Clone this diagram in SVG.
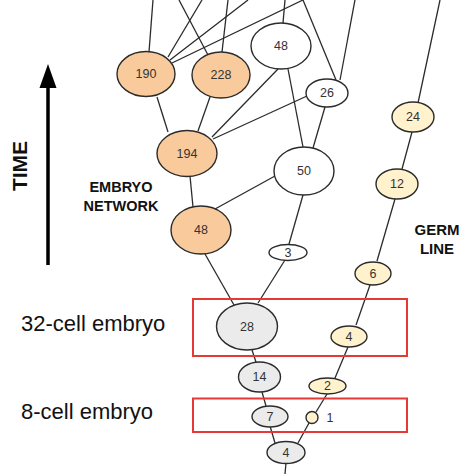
<svg xmlns="http://www.w3.org/2000/svg" width="474" height="474" viewBox="0 0 474 474">
<style>
.e{stroke:#2b2b2b;stroke-width:1.3;fill:none}
.n{stroke:#2b2b2b;stroke-width:1.4}
.o{fill:#f9cb9c}
.w{fill:#ffffff}
.y{fill:#fff2cc}
.g{fill:#ebebeb}
.t{font-family:"Liberation Sans",Arial,sans-serif;font-size:12.5px;fill:#333;text-anchor:middle;dominant-baseline:central}
.b{font-family:"Liberation Sans",Arial,sans-serif;font-weight:bold;fill:#111;text-anchor:middle}
.l{font-family:"Liberation Sans",Arial,sans-serif;font-size:22px;fill:#111}
.r{fill:none;stroke:#e53935;stroke-width:2}
</style>
<rect width="474" height="474" fill="#fff"/>
<g id="connectors">
<line class="e" x1="153" y1="0" x2="149" y2="52"/>
<line class="e" x1="179" y1="0" x2="208" y2="55"/>
<line class="e" x1="202" y1="0" x2="168" y2="57"/>
<line class="e" x1="248" y1="0" x2="170" y2="60"/>
<line class="e" x1="303" y1="0" x2="172" y2="63"/>
<line class="e" x1="228" y1="0" x2="222" y2="52"/>
<line class="e" x1="285" y1="0" x2="283" y2="23"/>
<line class="e" x1="303" y1="0" x2="336" y2="80"/>
<line class="e" x1="355" y1="0" x2="340" y2="80"/>
<line class="e" x1="440" y1="0" x2="418" y2="103"/>
<line class="e" x1="157" y1="97" x2="168" y2="132"/>
<line class="e" x1="210" y1="97" x2="198" y2="131"/>
<line class="e" x1="278" y1="69" x2="212" y2="137"/>
<line class="e" x1="307" y1="96" x2="213" y2="139"/>
<line class="e" x1="288" y1="69" x2="303" y2="147"/>
<line class="e" x1="325" y1="107" x2="313" y2="148"/>
<line class="e" x1="190" y1="176" x2="193" y2="207"/>
<line class="e" x1="275" y1="176" x2="215" y2="209"/>
<line class="e" x1="303" y1="195" x2="289" y2="244"/>
<line class="e" x1="412" y1="132" x2="402" y2="169"/>
<line class="e" x1="395" y1="199" x2="377" y2="261"/>
<line class="e" x1="370" y1="285" x2="356" y2="325"/>
<line class="e" x1="205" y1="254" x2="234" y2="305"/>
<line class="e" x1="285" y1="260" x2="258" y2="303"/>
<line class="e" x1="252" y1="350" x2="256" y2="362"/>
<line class="e" x1="348" y1="347" x2="335" y2="378"/>
<line class="e" x1="262" y1="392" x2="266" y2="406"/>
<line class="e" x1="327" y1="394" x2="316" y2="412"/>
<line class="e" x1="270" y1="426" x2="275" y2="443"/>
<line class="e" x1="309" y1="423" x2="298" y2="443"/>
<line class="e" x1="286" y1="463" x2="285" y2="474"/>
</g>
<g id="frames">
<rect class="r" x="193" y="299" width="214" height="57"/>
<rect class="r" x="193" y="398.5" width="214" height="33.5"/>
</g>
<g id="n190"><ellipse class="n o" cx="146" cy="74" rx="29" ry="22.5"/><text class="t" x="146" y="74">190</text></g>
<g id="n228"><ellipse class="n o" cx="221" cy="75" rx="29" ry="23"/><text class="t" x="221" y="75">228</text></g>
<g id="n48w"><ellipse class="n w" cx="281" cy="46" rx="30" ry="23"/><text class="t" x="281" y="46">48</text></g>
<g id="n26"><ellipse class="n w" cx="327" cy="93" rx="21" ry="14"/><text class="t" x="327" y="93">26</text></g>
<g id="n194"><ellipse class="n o" cx="187" cy="153.5" rx="30" ry="23"/><text class="t" x="187" y="153.5">194</text></g>
<g id="n50"><ellipse class="n w" cx="304" cy="171" rx="30" ry="24"/><text class="t" x="304" y="171">50</text></g>
<g id="n48o"><ellipse class="n o" cx="201" cy="230" rx="30" ry="24"/><text class="t" x="201" y="230">48</text></g>
<g id="n3"><ellipse class="n w" cx="288" cy="252.5" rx="19" ry="8"/><text class="t" x="288" y="252.5">3</text></g>
<g id="n24"><ellipse class="n y" cx="413" cy="117" rx="21" ry="15"/><text class="t" x="413" y="117">24</text></g>
<g id="n12"><ellipse class="n y" cx="397" cy="184" rx="21" ry="15"/><text class="t" x="397" y="184">12</text></g>
<g id="n6"><ellipse class="n y" cx="373" cy="273.5" rx="18" ry="11.5"/><text class="t" x="373" y="273.5">6</text></g>
<g id="n28"><ellipse class="n g" cx="247" cy="326.5" rx="30.5" ry="23.5"/><text class="t" x="247" y="326.5">28</text></g>
<g id="n4g"><ellipse class="n y" cx="349" cy="336.5" rx="18" ry="10.5"/><text class="t" x="349" y="336.5">4</text></g>
<g id="n14"><ellipse class="n g" cx="259.5" cy="377" rx="21" ry="15"/><text class="t" x="259.5" y="377">14</text></g>
<g id="n2"><ellipse class="n y" cx="327.5" cy="386" rx="18.5" ry="8"/><text class="t" x="327.5" y="386">2</text></g>
<g id="n7"><ellipse class="n g" cx="270" cy="416.5" rx="18" ry="10.5"/><text class="t" x="270" y="416.5">7</text></g>
<g id="n1"><circle class="n y" cx="312" cy="417.5" r="6"/><text class="t" x="330" y="417.5">1</text></g>
<g id="n4b"><ellipse class="n g" cx="286" cy="452.5" rx="19" ry="11"/><text class="t" x="286" y="452.5">4</text></g>
<g id="time">
<line x1="48" y1="85" x2="48" y2="265" stroke="#000" stroke-width="3.5"/>
<polygon points="48,64 39.5,88 56.5,88" fill="#000"/>
<text class="b" transform="translate(27,166) rotate(-90)" font-size="21">TIME</text>
</g>
<g id="labels">
<text class="b" font-size="14.5" x="121" y="192">EMBRYO</text>
<text class="b" font-size="14.5" x="121" y="211">NETWORK</text>
<text class="b" font-size="15" x="437" y="235">GERM</text>
<text class="b" font-size="15" x="437" y="254">LINE</text>
<text class="l" x="21" y="331">32-cell embryo</text>
<text class="l" x="21" y="419">8-cell embryo</text>
</g>
</svg>
